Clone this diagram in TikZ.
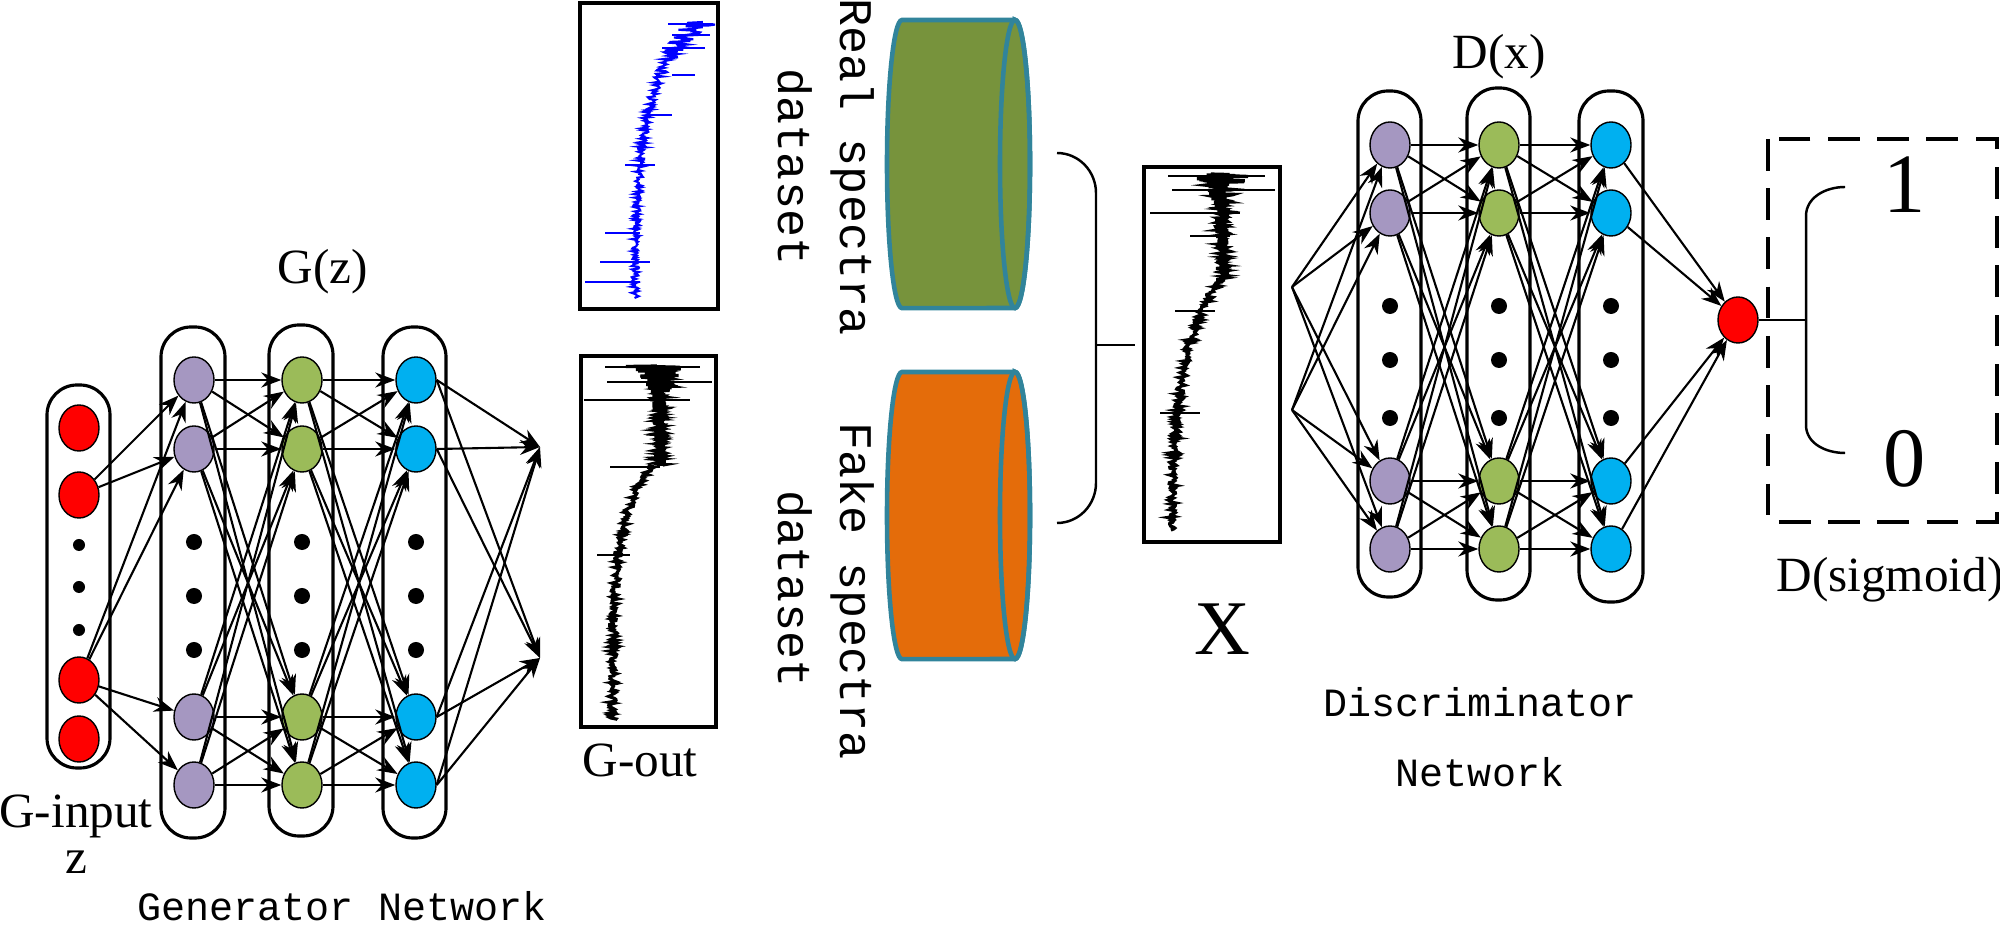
\documentclass[tikz,border=0pt]{standalone}
\usepackage{fontspec}
\setmainfont{Liberation Serif}
\newfontfamily\monof{Liberation Mono}
\usetikzlibrary{shapes.geometric,arrows.meta}
\definecolor{npurple}{HTML}{A597C1}
\definecolor{ngreen}{HTML}{9BBB59}
\definecolor{nblue}{HTML}{00B0F0}
\definecolor{cgreen}{HTML}{77933C}
\definecolor{corange}{HTML}{E46C0A}
\definecolor{cedge}{HTML}{31849B}
\begin{document}
\begin{tikzpicture}[x=0.01cm,y=-0.01cm,
  neuron/.style={ellipse,draw,line width=0.4pt,minimum width=0.40cm,minimum height=0.46cm,inner sep=0pt},
  dotn/.style={circle,fill=black,minimum size=0.16cm,inner sep=0pt},
  sdot/.style={circle,fill=black,minimum size=0.12cm,inner sep=0pt},
  layerbox/.style={draw,line width=0.9pt,rounded corners=0.3cm},
  conn/.style={line width=0.6pt,-{Stealth[length=0.2cm,width=0.15cm]}},
  lbl/.style={font=\fontsize{14}{16}\selectfont,inner sep=1pt},
  mono/.style={font=\monof\fontsize{11.4}{13}\selectfont},
  vmono/.style={font=\monof\fontsize{13.3}{15}\selectfont,rotate=-90},
  spec/.style={draw,line width=0.9pt}]
\useasboundingbox (0,0) rectangle (2000,925);

% ---------- Generator ----------
\draw[layerbox] (47,385) rectangle (110,768);
\draw[layerbox] (161,327) rectangle (225,838);
\draw[layerbox] (269,325) rectangle (333,836);
\draw[layerbox] (383,327) rectangle (446,838);

\foreach \y [count=\i] in {428,495,680,739} \node[neuron,fill=red] (in\i) at (79,\y) {};
\foreach \y in {545,587,630} \node[sdot] at (79,\y) {};
\foreach \x/\n/\c in {194/ga/npurple,302/gb/ngreen,416/gc/nblue}{
  \foreach \y [count=\i] in {380,449,717,785} \node[neuron,fill=\c] (\n\i) at (\x,\y) {};
  \foreach \y in {542,596,650} \node[dotn] at (\x,\y) {};
}
\coordinate (go1) at (540,447);
\coordinate (go2) at (540,658);

\foreach \j in {1,2} \draw[conn] (in2) -- (ga\j);
\foreach \j in {1,...,4} \draw[conn] (in3) -- (ga\j);
\foreach \i in {1,...,4}{\foreach \j in {1,...,4}{
  \draw[conn] (ga\i) -- (gb\j);
  \draw[conn] (gb\i) -- (gc\j);}}
\foreach \i in {1,...,4}{\draw[conn] (gc\i.east) -- (go1); \draw[conn] (gc\i.east) -- (go2);}

\node[lbl] at (76,816) {G-input};
\node[lbl] at (76,862) {z};
\node[lbl] at (323,272) {G(z)};
\node[mono] at (342,906) {Generator Network};

% ---------- spectra ----------
\draw[spec] (580,3) rectangle (718,309);
\pgfmathsetseed{7}
\draw[blue,line width=0.6pt] plot[domain=22:298,samples=320,variable=\t]
  ({634+66*exp(-(\t-20)/60)+(4+20*exp(-(\t-20)/22))*rand},\t);
\foreach \a/\b/\yy in {668/713/24,672/710/35,662/705/48,672/695/75,647/672/115,625/655/165,605/640/233,600/650/262,585/640/282}
  \draw[blue,line width=0.6pt] (\a,\yy) -- (\b,\yy);

\draw[spec] (581,356) rectangle (716,727);
\draw[line width=0.9pt] plot[domain=366:465,samples=220,variable=\t]
  ({660+(6+30*exp(-(\t-366)/14))*rand},\t);
\draw[line width=0.9pt] plot[domain=465:720,samples=260,variable=\t]
  ({612+40*exp(-(\t-465)/50)+4*rand},\t);
\foreach \a/\b/\yy in {605/700/367,607/712/382,584/690/400,610/660/467,597/630/555}
  \draw[line width=0.8pt] (\a,\yy) -- (\b,\yy);
\node[lbl] at (640,760) {G-out};

% ---------- datasets ----------
\node[vmono] at (853,167) {Real spectra};
\node[vmono] at (795,167) {dataset};
\node[vmono] at (853,591) {Fake spectra};
\node[vmono] at (795,589) {dataset};

\draw[cedge,line width=1.3pt,fill=cgreen] (1015,20) -- (902,20)
  arc[start angle=90,end angle=270,x radius=0.15cm,y radius=1.44cm] -- (1015,308)
  arc[start angle=270,end angle=450,x radius=0.15cm,y radius=1.44cm] -- cycle;
\draw[cedge,line width=1.3pt] (1015,164) ellipse[x radius=0.15cm,y radius=1.44cm];
\draw[cedge,line width=1.3pt,fill=corange] (1015,372) -- (902,372)
  arc[start angle=90,end angle=270,x radius=0.15cm,y radius=1.435cm] -- (1015,659)
  arc[start angle=270,end angle=450,x radius=0.15cm,y radius=1.435cm] -- cycle;
\draw[cedge,line width=1.3pt] (1015,515.5) ellipse[x radius=0.15cm,y radius=1.435cm];

\draw[line width=0.7pt] (1057,153) to[out=0,in=90] (1096,193) -- (1096,483) to[out=-90,in=0] (1057,523);
\draw[line width=0.7pt] (1096,345) -- (1135,345);

\draw[spec] (1144,167) rectangle (1280,542);
\draw[line width=0.9pt] plot[domain=174:280,samples=220,variable=\t]
  ({1222+(6+26*exp(-(\t-174)/16))*rand},\t);
\draw[line width=0.9pt] plot[domain=280:530,samples=260,variable=\t]
  ({1170+50*exp(-(\t-280)/70)+4*rand},\t);
\foreach \a/\b/\yy in {1168/1265/176,1172/1275/190,1150/1240/213,1190/1230/236,1175/1215/311,1160/1200/413}
  \draw[line width=0.8pt] (\a,\yy) -- (\b,\yy);
\node[font=\fontsize{22}{24}\selectfont] at (1222,629) {X};

% ---------- Discriminator ----------
\draw[layerbox] (1358,91) rectangle (1421,597);
\draw[layerbox] (1467,88) rectangle (1530,600);
\draw[layerbox] (1579,91) rectangle (1643,602);
\foreach \x/\n/\c in {1390/da/npurple,1499/db/ngreen,1611/dc/nblue}{
  \foreach \y [count=\i] in {145,213,481,549} \node[neuron,fill=\c] (\n\i) at (\x,\y) {};
  \foreach \y in {306,360,418} \node[dotn] at (\x,\y) {};
}
\coordinate (fa) at (1292,287);
\coordinate (fb) at (1292,410);
\node[neuron,fill=red] (dout) at (1738,320) {};
\foreach \j in {1,...,4}{\draw[conn] (fa) -- (da\j); \draw[conn] (fb) -- (da\j);}
\foreach \i in {1,...,4}{\foreach \j in {1,...,4}{
  \draw[conn] (da\i) -- (db\j);
  \draw[conn] (db\i) -- (dc\j);}}
\foreach \i in {1,...,4} \draw[conn] (dc\i) -- (dout);

\node[lbl] at (1499,57) {D(x)};
\node[mono] at (1480,702) {Discriminator};
\node[mono] at (1480,772) {Network};

\draw[line width=0.9pt,dash pattern=on 9pt off 5pt] (1768,139) rectangle (1997,522);
\coordinate (bm) at (1806,320);
\draw[line width=0.7pt] (dout) -- (bm);
\draw[line width=0.7pt] (1845,187) to[out=180,in=90] (1806,216) -- (1806,425) to[out=-90,in=180] (1845,453);
\node[font=\fontsize{24}{26}\selectfont] at (1905,185) {1};
\node[font=\fontsize{24}{26}\selectfont] at (1905,459) {0};
\node[lbl] at (1890,580) {D(sigmoid)};
\end{tikzpicture}
\end{document}
